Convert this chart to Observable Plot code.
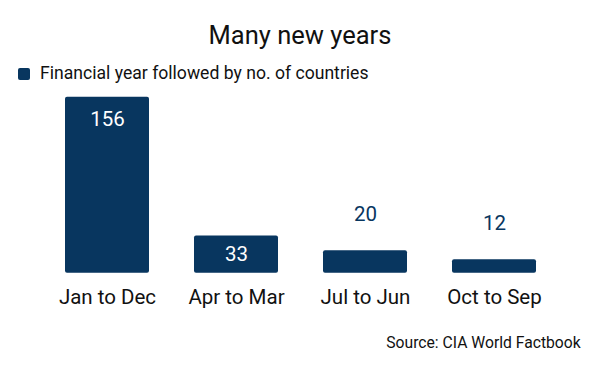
<!DOCTYPE html>
<html>
<head>
<meta charset="utf-8">
<script src="https://cdn.jsdelivr.net/npm/d3@7"></script>
<script src="https://cdn.jsdelivr.net/npm/@observablehq/plot@0.6"></script>
<style>
  html, body { margin: 0; padding: 0; background: #fff; }
  body { width: 600px; height: 371px; position: relative; overflow: hidden; font-family: Roboto, sans-serif; }
  #title { position: absolute; left: 0; width: 600px; top: 22.8px; text-align: center; font-size: 25.5px; line-height: 25.5px; color: #111; white-space: nowrap; }
  #sw { position: absolute; left: 18.3px; top: 67.7px; width: 12px; height: 12px; border-radius: 2px; background: #08365f; }
  #legendText { position: absolute; left: 40px; top: 65.2px; font-size: 17.6px; line-height: 17.6px; color: #111; white-space: nowrap; }
  #chart { position: absolute; left: 0; top: 88px; }
  #source { position: absolute; right: 19.3px; top: 334.5px; font-size: 15.7px; line-height: 15.7px; color: #111; white-space: nowrap; }
</style>
</head>
<body>
<div id="title">Many new years</div>
<div id="sw"></div>
<div id="legendText">Financial year followed by no. of countries</div>
<div id="chart"></div>
<div id="source">Source: CIA World Factbook</div>
<script>
const categories = ["Jan to Dec", "Apr to Mar", "Jul to Jun", "Oct to Sep"];
const countries = [156, 33, 20, 12];
const barColor = "#08365f";

const data = categories.map((c, i) => ({category: c, value: countries[i]}));
const topLabels = data.filter(d => d.value >= 100);
const midLabels = data.filter(d => d.value >= 30 && d.value < 100);
const aboveLabels = data.filter(d => d.value < 30);

const chart = Plot.plot({
  width: 600,
  height: 240,
  marginLeft: 64,
  marginRight: 64,
  marginTop: 8.7,
  marginBottom: 55.3,
  style: {fontFamily: "Roboto, sans-serif", background: "transparent"},
  x: {domain: categories, paddingInner: 0.35, paddingOuter: 0, label: null},
  y: {domain: [0, 156], axis: null},
  marks: [
    Plot.barY(data, {x: "category", y: "value", fill: barColor, rx: 2}),
    Plot.text(topLabels, {x: "category", y: "value", text: d => String(d.value), fill: "white", fontSize: 20.5, dy: 22.5}),
    Plot.text(midLabels, {x: "category", y: d => d.value / 2, text: d => String(d.value), fill: "white", fontSize: 20.5}),
    Plot.text(aboveLabels, {x: "category", y: "value", text: d => String(d.value), fill: barColor, fontSize: 20.5, dy: -36}),
    Plot.axisX({tickSize: 0, tickPadding: 16, fontSize: 20.5, label: null, color: "#111"})
  ]
});
document.getElementById("chart").appendChild(chart);
</script>
</body>
</html>
